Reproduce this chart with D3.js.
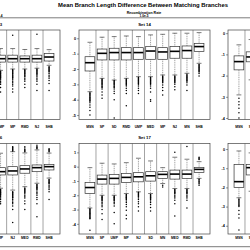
<!DOCTYPE html>
<html>
<head>
<meta charset="utf-8">
<script src="https://cdn.jsdelivr.net/npm/d3@7"></script>
<style>
  body { margin: 0; background: #fff; }
  svg { display: block; font-family: "Liberation Sans", Arial, sans-serif; }
</style>
</head>
<body>
<script>
const title = "Mean Branch Length Difference Between Matching Branches";
const rateLabel = "Recombination Rate";
const rateValues = ["1.0e-4", "1.0e-5"];

// Set 13 - only the right-most five boxes are in the frame
const set13Cats = ["UMP", "MP", "RMD", "NJ", "SHB"];
const set13Hi  = [-0.67, -0.67, -0.73, -0.67, -0.74];
const set13Q3  = [-1.10, -1.10, -1.15, -1.10, -1.00];
const set13Med = [-1.33, -1.33, -1.33, -1.33, -1.22];
const set13Q1  = [-1.55, -1.55, -1.55, -1.55, -1.48];
const set13Lo  = [-2.09, -2.00, -2.00, -1.95, -1.76];
const set13Out = [
  [-2.15, -2.2, -2.25, -2.3, -2.35, -2.4, -2.45, -2.5, -2.55, -2.6, -2.7, -2.8, -2.9, -3.0, -3.2, -3.5],
  [0.2, -2.05, -2.1, -2.15, -2.2, -2.25, -2.3, -2.35, -2.4, -2.45, -2.5, -2.55, -2.6, -2.7, -2.8, -2.9, -3.0, -3.1, -3.3, -3.5],
  [-2.05, -2.1, -2.15, -2.2, -2.25, -2.3, -2.35, -2.4, -2.45, -2.5, -2.6, -2.7, -2.8, -3.0, -3.2],
  [0.26, -2.0, -2.05, -2.1, -2.15, -2.2, -2.25, -2.3, -2.35, -2.4, -2.5, -2.6, -2.7, -2.8, -3.0, -3.4],
  [-1.85, -1.9, -1.95, -2.0, -2.05, -2.1, -2.15, -2.2, -2.3, -2.4, -2.5, -2.6, -2.75, -2.95, -3.4]
];

// Set 14
const set14Cats = ["MSN", "SP", "SD", "RMD", "UMP", "MED", "MP", "NJ", "MN", "SHB"];
const set14Hi  = [-0.26, 0.07, 0.11, 0.15, 0.11, 0.22, 0.26, 0.33, 0.33, 0.37];
const set14Q3  = [-1.20, -0.70, -0.65, -0.61, -0.61, -0.54, -0.61, -0.54, -0.50, -0.33];
const set14Med = [-1.59, -0.98, -0.93, -0.93, -0.93, -0.83, -0.89, -0.85, -0.80, -0.54];
const set14Q1  = [-2.13, -1.41, -1.41, -1.41, -1.37, -1.37, -1.37, -1.30, -1.30, -0.87];
const set14Lo  = [-3.48, -2.61, -2.72, -2.61, -2.50, -2.50, -2.39, -2.39, -2.28, -1.63];
const set14Out = [
  [-3.55, -3.6, -3.65, -3.7, -3.75, -3.8, -3.85, -3.9, -3.95, -4.0, -4.05, -4.1, -4.2, -4.35, -4.5, -4.7, -5.0],
  [-2.65, -2.7, -2.75, -2.8, -2.85, -2.9, -2.95, -3.0, -3.05, -3.1, -3.15, -3.2, -3.3, -3.5, -3.7, -3.9],
  [-2.75, -2.8, -2.85, -2.9, -2.95, -3.0, -3.05, -3.1, -3.15, -3.2, -3.3, -3.45, -3.6, -4.0, -5.2],
  [-2.65, -2.7, -2.75, -2.8, -2.85, -2.9, -2.95, -3.0, -3.05, -3.1, -3.25, -3.4, -3.6, -4.4],
  [-2.55, -2.6, -2.65, -2.7, -2.75, -2.8, -2.85, -2.9, -2.95, -3.0, -3.1, -3.25, -3.4, -3.6],
  [-2.55, -2.6, -2.65, -2.7, -2.75, -2.8, -2.85, -2.9, -2.95, -3.0, -3.1, -3.25, -3.5, -4.0, -4.1],
  [-2.45, -2.5, -2.55, -2.6, -2.65, -2.7, -2.75, -2.8, -2.85, -2.9, -3.05, -3.2, -3.4, -3.7],
  [-2.45, -2.5, -2.55, -2.6, -2.65, -2.7, -2.75, -2.8, -2.85, -2.9, -3.0, -3.15, -3.35],
  [-2.35, -2.4, -2.45, -2.5, -2.55, -2.6, -2.65, -2.7, -2.75, -2.8, -2.9, -3.05, -3.4],
  [-1.7, -1.75, -1.8, -1.85, -1.9, -1.95, -2.0, -2.05, -2.1, -2.15, -2.2, -2.3, -2.45]
];

// Set 15 - only the first two boxes are in the frame
const set15Cats = ["MSN", "SP"];
const set15Hi  = [-0.55, -0.30];
const set15Q3  = [-1.07, -0.88];
const set15Med = [-1.34, -1.12];
const set15Q1  = [-1.73, -1.35];
const set15Lo  = [-2.91, -2.20];
const set15Out = [[-3.07, -3.23, -3.38, -3.54, -3.75, -4.0], []];

// Set 16 - right-most five boxes
const set16Cats = ["MP", "NJ", "MED", "RMD", "SHB"];
const set16Hi  = [0.94, 1.05, 0.96, 1.17, 0.95];
const set16Q3  = [-0.07, 0.0, 0.07, 0.12, 0.16];
const set16Med = [-0.35, -0.30, -0.16, -0.07, 0.0];
const set16Q1  = [-0.58, -0.58, -0.46, -0.35, -0.23];
const set16Lo  = [-1.51, -1.64, -1.40, -1.16, -0.80];
const set16Out = [
  [-1.6, -1.65, -1.7, -1.75, -1.8, -1.85, -1.9, -1.95, -2.0, -2.1, -2.2, -2.3, -2.45, -2.6],
  [1.1, 1.15, 1.2, 1.25, 1.3, 1.35, 1.4, -1.75, -1.8, -1.85, -1.9, -1.95, -2.0, -2.05, -2.1, -2.15, -2.2, -2.3, -2.4, -2.5, -2.6, -2.75, -3.0, -3.9],
  [1.05, 1.1, 1.15, 1.2, 1.3, 1.4, -1.5, -1.55, -1.6, -1.65, -1.7, -1.75, -1.8, -1.9, -2.0, -2.1, -2.2, -2.4, -2.6, -3.0],
  [1.25, 1.3, 1.35, 1.4, 1.5, -1.25, -1.3, -1.35, -1.4, -1.45, -1.5, -1.55, -1.6, -1.7, -1.8, -1.9, -2.0, -2.15, -2.3, -2.6, -3.5],
  [1.05, 1.1, 1.15, 1.2, 1.25, -0.9, -0.95, -1.0, -1.05, -1.1, -1.15, -1.2, -1.3, -1.4, -1.5, -1.6, -1.75, -2.3]
];

// Set 17
const set17Cats = ["MSN", "SP", "UMP", "MP", "NJ", "SD", "MN", "MED", "RMD", "SHB"];
const set17Hi  = [-0.07, 0.24, 0.19, 0.28, 0.59, 0.40, -0.07, 0.66, 0.52, 0.35];
const set17Q3  = [-1.11, -0.59, -0.54, -0.47, -0.42, -0.35, -0.35, -0.24, -0.24, -0.05];
const set17Med = [-1.46, -0.87, -0.82, -0.75, -0.71, -0.64, -0.54, -0.52, -0.52, -0.19];
const set17Q1  = [-1.88, -1.22, -1.22, -1.11, -1.06, -1.01, -0.82, -0.87, -0.82, -0.40];
const set17Lo  = [-2.89, -2.00, -2.00, -1.88, -1.76, -1.88, -1.18, -1.53, -1.53, -0.82];
const set17Out = [
  [-2.95, -3.0, -3.05, -3.1, -3.15, -3.2, -3.25, -3.3, -3.35, -3.4, -3.45, -3.5, -3.55, -3.6, -3.65, -4.45],
  [-2.05, -2.1, -2.15, -2.2, -2.25, -2.3, -2.35, -2.4, -2.5, -2.6, -2.7, -2.8, -3.0, -3.3, -3.7],
  [-2.05, -2.1, -2.15, -2.2, -2.25, -2.3, -2.35, -2.4, -2.5, -2.6, -2.75, -3.2, -4.0],
  [-1.95, -2.0, -2.05, -2.1, -2.15, -2.2, -2.25, -2.3, -2.4, -2.5, -2.65, -2.8, -3.05, -3.4, -3.65],
  [-1.8, -1.85, -1.9, -1.95, -2.0, -2.05, -2.1, -2.2, -2.3, -2.45, -2.6, -2.8, -3.1],
  [-1.95, -2.0, -2.05, -2.1, -2.15, -2.2, -2.25, -2.3, -2.4, -2.5, -2.65, -2.85, -3.1],
  [-1.3, -1.42],
  [1.0, -1.6, -1.65, -1.7, -1.75, -1.8, -1.85, -1.9, -2.0, -2.1, -2.2, -2.35, -2.6, -3.45],
  [1.41, -1.6, -1.65, -1.7, -1.75, -1.8, -1.85, -1.9, -2.0, -2.1, -2.2, -2.35, -2.9],
  [0.5, 0.55, 0.6, 0.66, -0.88, -0.94, -1.0, -1.06, -1.12, -1.2, -1.3]
];

// Set 18 - first two boxes
const set18Cats = ["MSN", "SP"];
const set18Hi  = [-0.10, -0.20];
const set18Q3  = [-0.80, -0.80];
const set18Med = [-1.70, -0.97];
const set18Q1  = [-2.01, -1.35];
const set18Lo  = [-2.54, -2.20];
const set18Out = [[-2.6, -2.65, -2.7, -2.75, -2.8, -2.85, -2.9, -2.95, -3.0, -3.2, -3.4, -3.6, -4.22], []];

const topTicks = [0, -1, -2, -3, -4, -5];
const bottomTicks = [1, 0, -1, -2, -3, -4];
const edgeTicks = [0, -1, -2, -3, -4];

const W = 250, H = 250;
const panelW = 131;
const colLeft = [-71, 79, 228];
const rowTop = [30, 143.5], rowBottom = [119.5, 234];
const labelY = [126.7, 238.3];

const svg = d3.select("body").append("svg")
    .attr("width", W)
    .attr("height", H);

const panels = [
    { name: "Set 13", col: 0, row: 0, first: 6, dom: [-5.29, 0.54], ticks: topTicks,
      cats: set13Cats, hi: set13Hi, q3: set13Q3, med: set13Med, q1: set13Q1, lo: set13Lo, out: set13Out },
    { name: "Set 14", col: 1, row: 0, first: 1, dom: [-5.29, 0.54], ticks: topTicks,
      cats: set14Cats, hi: set14Hi, q3: set14Q3, med: set14Med, q1: set14Q1, lo: set14Lo, out: set14Out },
    { name: "Set 15", col: 2, row: 0, first: 1, dom: [-4.07, 0.15], ticks: edgeTicks,
      cats: set15Cats, hi: set15Hi, q3: set15Q3, med: set15Med, q1: set15Q1, lo: set15Lo, out: set15Out },
    { name: "Set 16", col: 0, row: 1, first: 6, dom: [-4.71, 1.62], ticks: bottomTicks,
      cats: set16Cats, hi: set16Hi, q3: set16Q3, med: set16Med, q1: set16Q1, lo: set16Lo, out: set16Out },
    { name: "Set 17", col: 1, row: 1, first: 1, dom: [-4.71, 1.62], ticks: bottomTicks,
      cats: set17Cats, hi: set17Hi, q3: set17Q3, med: set17Med, q1: set17Q1, lo: set17Lo, out: set17Out },
    { name: "Set 18", col: 2, row: 1, first: 1, dom: [-4.43, 0.29], ticks: edgeTicks,
      cats: set18Cats, hi: set18Hi, q3: set18Q3, med: set18Med, q1: set18Q1, lo: set18Lo, out: set18Out }
];

// headers
svg.append("text")
    .attr("x", 143).attr("y", 7.3)
    .attr("text-anchor", "middle")
    .attr("font-size", 6.2).attr("font-weight", "bold")
    .attr("textLength", 170).attr("lengthAdjust", "spacingAndGlyphs")
    .text(title);

// middle column header
svg.append("text").attr("x", 144).attr("y", 14.3)
    .attr("text-anchor", "middle").attr("font-size", 3.6).attr("font-weight", "bold")
    .text(rateLabel);
svg.append("text").attr("x", 144).attr("y", 17.1)
    .attr("text-anchor", "middle").attr("font-size", 3.2).attr("font-weight", "bold")
    .text(rateValues[1]);
// left column: only the tail of its rate value reaches into the frame
svg.append("text").attr("x", 2.6).attr("y", 17.1)
    .attr("text-anchor", "end").attr("font-size", 3.2).attr("font-weight", "bold")
    .text(rateValues[0]);

svg.append("line").attr("x1", 0).attr("x2", W).attr("y1", 17.8).attr("y2", 17.8)
    .attr("stroke", "#222").attr("stroke-width", 0.6);
svg.append("line").attr("x1", 0).attr("x2", W).attr("y1", 246.7).attr("y2", 246.7)
    .attr("stroke", "#222").attr("stroke-width", 0.6);

function drawPanel(p) {
    let left = colLeft[p.col],
        top = rowTop[p.row],
        bottom = rowBottom[p.row];
    let x = d3.scaleLinear().domain([0.1, 10.9]).range([left, left + panelW]);
    let y = d3.scaleLinear().domain(p.dom).range([bottom, top]);
    let g = svg.append("g");

    // strip title; the left column's sits against the frame edge
    let st = g.append("text")
        .attr("y", top - 4.3)
        .attr("font-size", 4.3).attr("font-weight", "bold")
        .text(p.name);
    if (p.col === 0) st.attr("x", 2.2).attr("text-anchor", "end");
    else st.attr("x", left + panelW / 2).attr("text-anchor", "middle");

    // separators between boxes
    g.selectAll(".sep")
        .data(d3.range(1.5, 10.5, 1))
        .enter().append("line")
        .attr("class", "sep")
        .attr("x1", d => x(d)).attr("x2", d => x(d))
        .attr("y1", top).attr("y2", bottom)
        .attr("stroke", "#666").attr("stroke-width", 0.6);

    g.append("rect")
        .attr("x", left).attr("y", top)
        .attr("width", panelW).attr("height", bottom - top)
        .attr("fill", "none").attr("stroke", "#444").attr("stroke-width", 0.7);

    p.cats.forEach((cat, i) => {
        let pos = p.first + i,
            cx = x(pos),
            hw = x(pos + 0.4) - cx,
            sw = x(pos + 0.2) - cx;
        let b = g.append("g");
        // whiskers
        [[p.q3[i], p.hi[i]], [p.q1[i], p.lo[i]]].forEach(([a, e]) => {
            b.append("line")
                .attr("x1", cx).attr("x2", cx).attr("y1", y(a)).attr("y2", y(e))
                .attr("stroke", "#555").attr("stroke-width", 0.6)
                .attr("stroke-dasharray", "1,0.8");
            b.append("line")
                .attr("x1", cx - sw).attr("x2", cx + sw).attr("y1", y(e)).attr("y2", y(e))
                .attr("stroke", "#222").attr("stroke-width", 0.6);
        });
        b.append("rect")
            .attr("x", cx - hw).attr("y", y(p.q3[i]))
            .attr("width", hw * 2).attr("height", y(p.q1[i]) - y(p.q3[i]))
            .attr("fill", "#fff").attr("stroke", "#333").attr("stroke-width", 0.7);
        b.append("line")
            .attr("x1", cx - hw).attr("x2", cx + hw)
            .attr("y1", y(p.med[i])).attr("y2", y(p.med[i]))
            .attr("stroke", "#000").attr("stroke-width", 1.6);
        b.selectAll("circle")
            .data(p.out[i])
            .enter().append("circle")
            .attr("cx", cx).attr("cy", d => y(d))
            .attr("r", 0.75).attr("fill", "#000");
        g.append("text")
            .attr("x", cx).attr("y", labelY[p.row])
            .attr("dy", "0.35em")
            .attr("text-anchor", "middle").attr("font-size", 3.4).attr("font-weight", "bold")
            .text(cat);
    });

    let axis = g.append("g")
        .attr("transform", `translate(${left},0)`)
        .call(d3.axisLeft(y).tickValues(p.ticks).tickSize(2).tickPadding(1)
            .tickFormat(d => String(d)));
    axis.select(".domain").remove();
    axis.selectAll("line").attr("stroke", "#333").attr("stroke-width", 0.5);
    axis.selectAll("text").attr("font-size", 3.8).attr("font-family", "Liberation Sans, Arial, sans-serif")
        .attr("font-weight", "bold").attr("fill", "#000");
}

panels.forEach(drawPanel);
</script>
</body>
</html>
